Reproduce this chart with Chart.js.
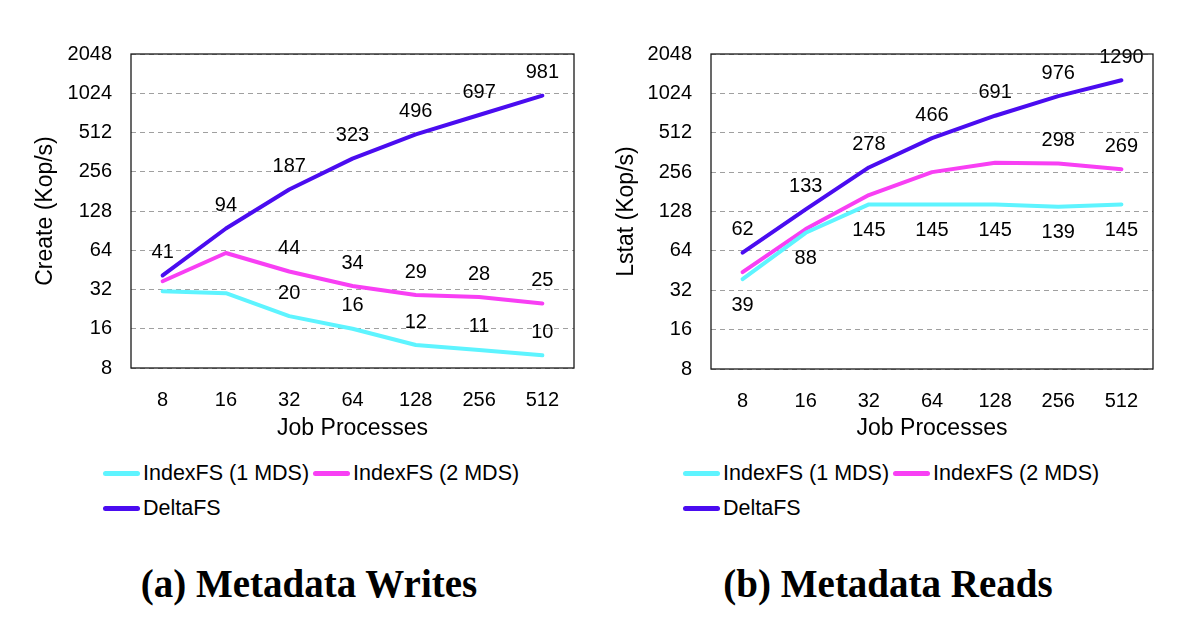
<!DOCTYPE html>
<html>
<head>
<meta charset="utf-8">
<script src="https://cdn.jsdelivr.net/npm/chart.js@4.4.1/dist/chart.umd.min.js"></script>
<style>
body { margin:0; background:#fff; width:1197px; height:620px; position:relative; overflow:hidden; font-family:"Liberation Sans", Arial, sans-serif; }
.box { position:absolute; top:0; height:450px; }
.legend { position:absolute; top:456px; width:440px; display:flex; flex-wrap:wrap; font-size:21.5px; line-height:35px; color:#000; }
.item { display:flex; align-items:center; margin-right:4px; }
.swatch { width:37px; height:5px; border-radius:3px; margin-right:3px; }
.caption { position:absolute; top:565px; width:400px; text-align:center; font-family:"Liberation Serif", serif; font-weight:bold; font-size:39px; line-height:38px; color:#000; }
</style>
</head>
<body>
<div class="box" style="left:0;width:598px"><canvas id="create-chart" width="598" height="450"></canvas></div>
<div class="box" style="left:598px;width:599px"><canvas id="lstat-chart" width="599" height="450"></canvas></div>
<div class="legend" id="legend-a" style="left:103px"></div>
<div class="legend" id="legend-b" style="left:683px"></div>
<div class="caption" style="left:109px">(a) Metadata Writes</div>
<div class="caption" style="left:688px">(b) Metadata Reads</div>
<script>
const jobProcs = ['8', '16', '32', '64', '128', '256', '512'];
const yTicks = [8, 16, 32, 64, 128, 256, 512, 1024, 2048];
const seriesNames = ['IndexFS (1 MDS)', 'IndexFS (2 MDS)', 'DeltaFS'];
const seriesColors = ['#5ef4ff', '#f83ff4', '#4a0cf0'];

// (a) create throughput, Kop/s
const createIdx1 = [31, 30, 20, 16, 12, 11, 10];
const createIdx2 = [37, 61, 44, 34, 29, 28, 25];
const createDelta = [41, 94, 187, 323, 496, 697, 981];
const createIdx1Labels = [null, null, 20, 16, 12, 11, 10];
const createIdx2Labels = [null, null, 44, 34, 29, 28, 25];
const createDeltaLabels = [41, 94, 187, 323, 496, 697, 981];

// (b) lstat throughput, Kop/s
const lstatIdx1 = [39, 88, 145, 145, 145, 139, 145];
const lstatIdx2 = [44, 94, 171, 256, 302, 298, 269];
const lstatDelta = [62, 133, 278, 466, 691, 976, 1290];
const lstatIdx1Labels = [39, 88, 145, 145, 145, 139, 145];
const lstatIdx2Labels = [null, null, null, null, null, 298, 269];
const lstatDeltaLabels = [62, 133, 278, 466, 691, 976, 1290];

const family = '"Liberation Sans", Arial, sans-serif';

// draws the numbers next to the line points
const pointLabels = {
    id: 'pointLabels',
    afterDatasetsDraw(chart) {
        const ctx = chart.ctx;
        ctx.save();
        ctx.font = '20px ' + family;
        ctx.fillStyle = '#000';
        ctx.textAlign = 'center';
        ctx.textBaseline = 'middle';
        chart.data.datasets.forEach((ds, i) => {
            const meta = chart.getDatasetMeta(i);
            meta.data.forEach((pt, j) => {
                const txt = ds.pointLabels[j];
                if (txt == null) return;
                const dy = ds.labelPos === 'below' ? 26 : -23;
                ctx.fillText(String(txt), pt.x, pt.y + dy);
            });
        });
        ctx.restore();
    }
};

const frame = {
    id: 'frame',
    afterDraw(chart) {
        const a = chart.chartArea;
        const ctx = chart.ctx;
        ctx.save();
        ctx.strokeStyle = '#1a1a1a';
        ctx.lineWidth = 1.3;
        ctx.strokeRect(a.left, a.top, a.right - a.left, a.bottom - a.top);
        ctx.restore();
    }
};

function makeChart(id, cfg) {
    var ctx = document.getElementById(id).getContext('2d');
    return new Chart(ctx, {
        type: 'line',
        data: {
            labels: jobProcs,
            datasets: cfg.series.map((s, i) => ({
                label: seriesNames[i],
                data: s.values,
                pointLabels: s.labels,
                labelPos: s.pos,
                borderColor: seriesColors[i],
                backgroundColor: seriesColors[i],
                borderWidth: 4,
                pointRadius: 0,
                tension: 0,
                fill: false,
                borderJoinStyle: 'round',
                borderCapStyle: 'round'
            }))
        },
        options: {
            responsive: false,
            animation: false,
            layout: { padding: cfg.padding },
            plugins: {
                legend: { display: false },
                tooltip: { enabled: false }
            },
            scales: {
                x: {
                    type: 'category',
                    offset: true,
                    grid: { display: false },
                    border: { display: false },
                    ticks: { color: '#000', padding: 12, maxRotation: 0, font: { size: 20, family: family } },
                    title: { display: true, text: 'Job Processes', color: '#000', font: { size: 23, family: family }, padding: { top: 0, bottom: 8 } },
                    afterFit: s => { s.height = cfg.xHeight; }
                },
                y: {
                    type: 'logarithmic',
                    min: 8,
                    max: 2048,
                    afterBuildTicks: s => { s.ticks = yTicks.map(v => ({ value: v })); },
                    ticks: { color: '#000', padding: 19, autoSkip: false, font: { size: 20, family: family }, callback: v => String(v) },
                    grid: { color: '#a0a0a0', lineWidth: 1, drawTicks: false },
                    border: { display: false, dash: [5, 4] },
                    title: { display: true, text: cfg.yTitle, color: '#000', font: { size: 23, family: family }, padding: 0 },
                    afterFit: s => { s.width = cfg.yWidth; }
                }
            }
        },
        plugins: [pointLabels, frame]
    });
}

function makeLegend(id) {
    const el = document.getElementById(id);
    seriesNames.forEach((name, i) => {
        const item = document.createElement('div');
        item.className = 'item';
        const sw = document.createElement('span');
        sw.className = 'swatch';
        sw.style.background = seriesColors[i];
        const txt = document.createElement('span');
        txt.textContent = name;
        item.appendChild(sw);
        item.appendChild(txt);
        el.appendChild(item);
    });
}

window.createChart = makeChart('create-chart', {
    yTitle: 'Create (Kop/s)',
    padding: { left: 32, top: 54, right: 24, bottom: 0 },
    yWidth: 99,
    xHeight: 82,
    series: [
        { values: createIdx1, labels: createIdx1Labels, pos: 'above' },
        { values: createIdx2, labels: createIdx2Labels, pos: 'above' },
        { values: createDelta, labels: createDeltaLabels, pos: 'above' }
    ]
});

window.lstatChart = makeChart('lstat-chart', {
    yTitle: 'Lstat (Kop/s)',
    padding: { left: 15, top: 54, right: 44, bottom: 0 },
    yWidth: 98,
    xHeight: 81,
    series: [
        { values: lstatIdx1, labels: lstatIdx1Labels, pos: 'below' },
        { values: lstatIdx2, labels: lstatIdx2Labels, pos: 'above' },
        { values: lstatDelta, labels: lstatDeltaLabels, pos: 'above' }
    ]
});

makeLegend('legend-a');
makeLegend('legend-b');
</script>
</body>
</html>
